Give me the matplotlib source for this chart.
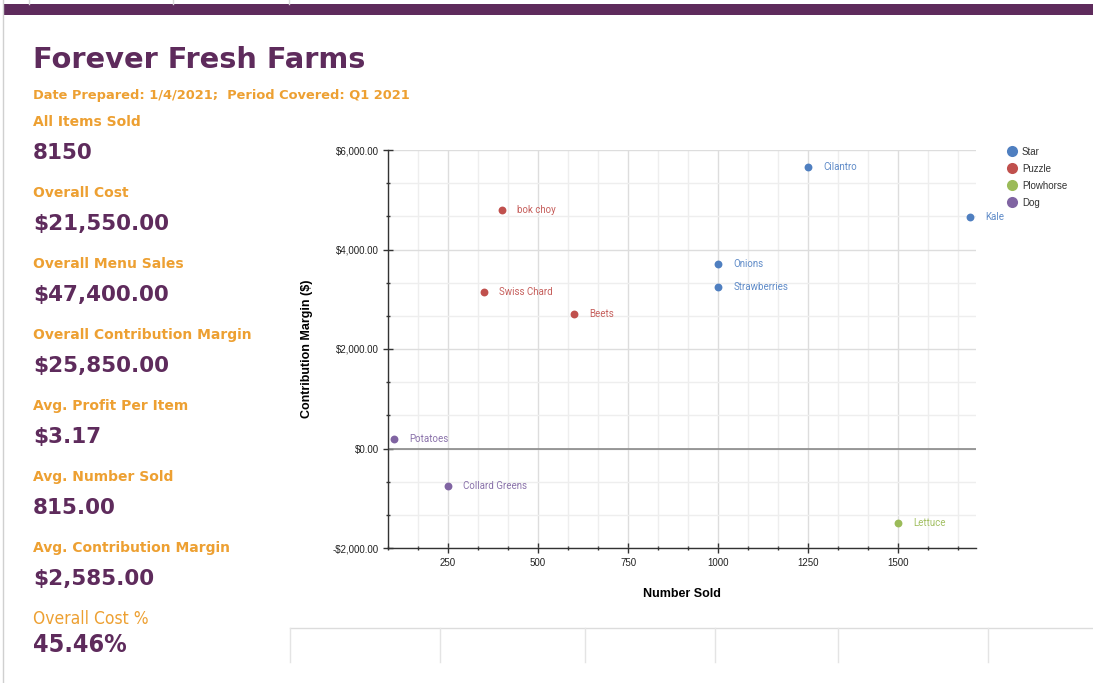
import matplotlib
matplotlib.use("Agg")
import matplotlib.pyplot as plt
from matplotlib.ticker import MultipleLocator, FuncFormatter
from matplotlib.lines import Line2D
from matplotlib.patches import Rectangle

# ---------------- data ----------------
items = ["Cilantro", "Kale", "Onions", "Strawberries", "bok choy", "Swiss Chard",
         "Beets", "Potatoes", "Collard Greens", "Lettuce"]
number_sold = [1250, 1700, 1000, 1000, 400, 350, 600, 100, 250, 1500]
contribution = [5650, 4650, 3700, 3250, 4800, 3150, 2700, 200, -750, -1500]
category = ["Star", "Star", "Star", "Star", "Puzzle", "Puzzle", "Puzzle",
            "Dog", "Dog", "Plowhorse"]
legend_order = ["Star", "Puzzle", "Plowhorse", "Dog"]
x_ticks = [250, 500, 750, 1000, 1250, 1500]
y_ticks = [-2000, 0, 2000, 4000, 6000]

title = "Forever Fresh Farms"
subtitle = "Date Prepared: 1/4/2021;  Period Covered: Q1 2021"
kpi_labels = ["All Items Sold", "Overall Cost", "Overall Menu Sales",
              "Overall Contribution Margin", "Avg. Profit Per Item",
              "Avg. Number Sold", "Avg. Contribution Margin", "Overall Cost %"]
kpi_values = ["8150", "$21,550.00", "$47,400.00", "$25,850.00", "$3.17",
              "815.00", "$2,585.00", "45.46%"]

# ---------------- style ----------------
W, H = 1093, 683
purple = "#5e2b5c"
orange = "#eda032"
marker_colors = {"Star": "#4f7fc0", "Puzzle": "#c0504d", "Plowhorse": "#9bbb59", "Dog": "#8064a2"}
label_colors = {"Star": "#5f8bc8", "Puzzle": "#c65f5c", "Plowhorse": "#a3c063", "Dog": "#8a72aa"}
arial = ["Liberation Sans", "DejaVu Sans"]
roboto = ["Roboto", "DejaVu Sans"]

fig = plt.figure(figsize=(W / 100, H / 100), dpi=100)
fig.patch.set_facecolor("white")

def fx(px):
    return px / W

def fy(py):
    return 1 - py / H

# background spreadsheet decorations
bg = fig.add_axes([0, 0, 1, 1], zorder=-5)
bg.set_xlim(0, W)
bg.set_ylim(H, 0)
bg.axis("off")
bg.add_patch(Rectangle((3, 4), W - 3, 11, facecolor=purple, edgecolor="none"))
bg.plot([2.5, 2.5], [0, H], color="#d0d0d0", lw=1)
for xx in [29, 173, 289]:
    bg.plot([xx, xx], [0, 4], color="#d8d8d8", lw=1)
bg.plot([290, W], [627.5, 627.5], color="#dcdcdc", lw=1)
for xx in [290, 440, 585, 715, 838, 988]:
    bg.plot([xx, xx], [627.5, 662], color="#e4e4e4", lw=1)

# left panel text
fig.text(fx(33), fy(60), title, color=purple, fontsize=20.8, fontweight="bold",
         family="DejaVu Sans", va="center", ha="left")
fig.text(fx(33), fy(96), subtitle, color=orange, fontsize=9.4, fontweight="bold",
         family="DejaVu Sans", va="center", ha="left")

label_y = [122, 193, 264, 335, 406, 477, 548, 619]
value_y = [153, 224, 295, 366, 437, 508, 579, 645]
for i, (lab, val) in enumerate(zip(kpi_labels, kpi_values)):
    if i == len(kpi_labels) - 1:
        fig.text(fx(33), fy(label_y[i]), lab, color=orange, fontsize=12.5,
                 family="DejaVu Sans", fontstretch="condensed", va="center", ha="left")
        fig.text(fx(33), fy(value_y[i]), val, color=purple, fontsize=18,
                 fontweight="bold", family="DejaVu Sans", fontstretch="condensed",
                 va="center", ha="left")
    else:
        fig.text(fx(33), fy(label_y[i]), lab, color=orange, fontsize=10,
                 fontweight="bold", family="DejaVu Sans", va="center", ha="left")
        fig.text(fx(33), fy(value_y[i]), val, color=purple, fontsize=15.5,
                 fontweight="bold", family="DejaVu Sans", va="center", ha="left")

# ---------------- chart ----------------
ax_l, ax_r, ax_t, ax_b = 388, 976, 150, 548
ax = fig.add_axes([fx(ax_l), fy(ax_b), fx(ax_r - ax_l), (ax_b - ax_t) / H])
ax.set_xlim(250 / 3, 1716)
ax.set_ylim(-2000, 6000)

ax.xaxis.set_minor_locator(MultipleLocator(250 / 3))
ax.yaxis.set_minor_locator(MultipleLocator(2000 / 3))
ax.set_xticks(x_ticks)
ax.set_yticks(y_ticks)

def money(v, pos=None):
    if v < 0:
        return "-${:,.2f}".format(-v)
    return "${:,.2f}".format(v)

ax.yaxis.set_major_formatter(FuncFormatter(money))
ax.xaxis.set_major_formatter(FuncFormatter(lambda v, p: "{:d}".format(int(round(v)))))

ax.grid(True, which="major", color="#dddddd", lw=1)
ax.grid(True, which="minor", color="#eeeeee", lw=1)
ax.set_axisbelow(True)
ax.axhline(0, color="#8a8a8a", lw=1.2, zorder=1)

for s in ["top", "right"]:
    ax.spines[s].set_visible(False)
for s in ["left", "bottom"]:
    ax.spines[s].set_color("#333333")
    ax.spines[s].set_linewidth(1)

ax.tick_params(which="major", direction="inout", length=7, width=1, color="#333333",
               labelsize=7, labelcolor="#222222")
ax.tick_params(which="minor", direction="inout", length=3.5, width=1, color="#333333")
ax.tick_params(axis="x", which="major", pad=4)
ax.tick_params(axis="y", which="major", pad=3)
for t in ax.get_xticklabels() + ax.get_yticklabels():
    t.set_family(arial)

for x, y, name, cat in zip(number_sold, contribution, items, category):
    ax.scatter([x], [y], s=32, color=marker_colors[cat], zorder=3, linewidths=0)
    ax.annotate(name, (x, y), xytext=(11, 0), textcoords="offset points",
                va="center", ha="left", fontsize=7, color=label_colors[cat],
                family=roboto)

ax.set_xlabel("Number Sold", fontsize=9, fontweight="bold", labelpad=14, family=arial)
ax.set_ylabel("Contribution Margin ($)", fontsize=9, fontweight="bold", labelpad=14,
              family=arial)

handles = [Line2D([0], [0], marker="o", linestyle="none", markersize=8,
                  markerfacecolor=marker_colors[c], markeredgewidth=0, label=c)
           for c in legend_order]
leg = fig.legend(handles=handles, loc="upper left",
                 bbox_to_anchor=(fx(1001), fy(143)), frameon=False,
                 fontsize=7, handletextpad=0.25, labelspacing=0.72,
                 handlelength=1.5, borderaxespad=0)
for t in leg.get_texts():
    t.set_family(arial)
    t.set_color("#333333")

fig.savefig("out.png", dpi=100, facecolor="white")
